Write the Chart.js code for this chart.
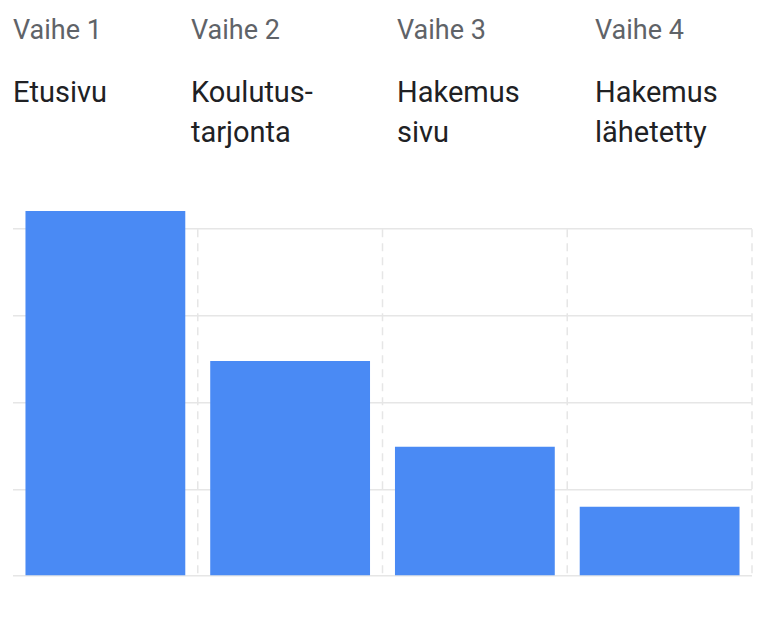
<!DOCTYPE html>
<html>
<head>
<meta charset="utf-8">
<script src="https://cdn.jsdelivr.net/npm/chart.js@4"></script>
<style>
  body { margin: 0; background: #fff; font-family: Roboto, "Noto Sans", sans-serif; }
  #wrap { position: relative; width: 768px; height: 643px; }
  .step { position: absolute; top: 14px; font-size: 27px; color: #5f6368; }
  .name { position: absolute; top: 72px; font-size: 29px; color: #202124; line-height: 40px; }
  #box { position: absolute; left: 0; top: 200px; width: 768px; height: 400px; }
</style>
</head>
<body>
<div id="wrap">
  <div id="labels"></div>
  <div id="box"><canvas id="c"></canvas></div>
</div>
<script>
// Vaiheet ja arvot (suhteelliset, ruudukkoväli = 1)
const steps  = ["Vaihe 1", "Vaihe 2", "Vaihe 3", "Vaihe 4"];
const names  = [["Etusivu"], ["Koulutus-", "tarjonta"], ["Hakemus", "sivu"], ["Hakemus", "lähetetty"]];
const values = [4.21, 2.48, 1.49, 0.80];
const gridTicks = [0, 1, 2, 3, 4];
const labelX = [13, 191, 397, 595];

const labelsEl = document.getElementById("labels");
steps.forEach((s, i) => {
  const a = document.createElement("div");
  a.className = "step"; a.style.left = labelX[i] + "px"; a.textContent = s;
  const b = document.createElement("div");
  b.className = "name"; b.style.left = labelX[i] + "px"; b.innerHTML = names[i].join("<br>");
  labelsEl.appendChild(a); labelsEl.appendChild(b);
});

// pystysuorat katkoviivat sarakkeiden väliin
const colLines = {
  id: "colLines",
  beforeDatasetsDraw(chart) {
    const { ctx, scales: { x, y }, chartArea } = chart;
    const top = y.getPixelForValue(4), bottom = chartArea.bottom;
    ctx.save();
    ctx.strokeStyle = "#e6e6e6"; ctx.lineWidth = 1.5; ctx.setLineDash([8, 6]);
    for (let i = 1; i <= steps.length; i++) {
      const px = i < steps.length
        ? (x.getPixelForValue(i - 1) + x.getPixelForValue(i)) / 2
        : chartArea.right;
      ctx.beginPath(); ctx.moveTo(px, top); ctx.lineTo(px, bottom); ctx.stroke();
    }
    ctx.restore();
  }
};

new Chart(document.getElementById("c"), {
  type: "bar",
  data: {
    labels: steps,
    datasets: [{ data: values, backgroundColor: "#4a8af4", barPercentage: 0.865, categoryPercentage: 1 }]
  },
  options: {
    responsive: true,
    maintainAspectRatio: false,
    animation: false,
    layout: { padding: { left: 13, right: 16, top: 11, bottom: 24 } },
    scales: {
      x: { display: false },
      y: {
        min: 0, max: 4.21,
        afterBuildTicks: s => { s.ticks = gridTicks.map(v => ({ value: v })); },
        ticks: { display: false },
        border: { display: false },
        grid: {
          color: "#e6e6e6", lineWidth: 1.5, drawTicks: false,
          tickBorderDash: [0, 0]
        }
      }
    },
    plugins: { legend: { display: false }, tooltip: { enabled: false } }
  },
  plugins: [colLines, {
    id: "dashY",
    beforeDraw(chart) { chart.options.scales.y.grid.borderDash = [8, 6]; }
  }]
});
</script>
</body>
</html>
